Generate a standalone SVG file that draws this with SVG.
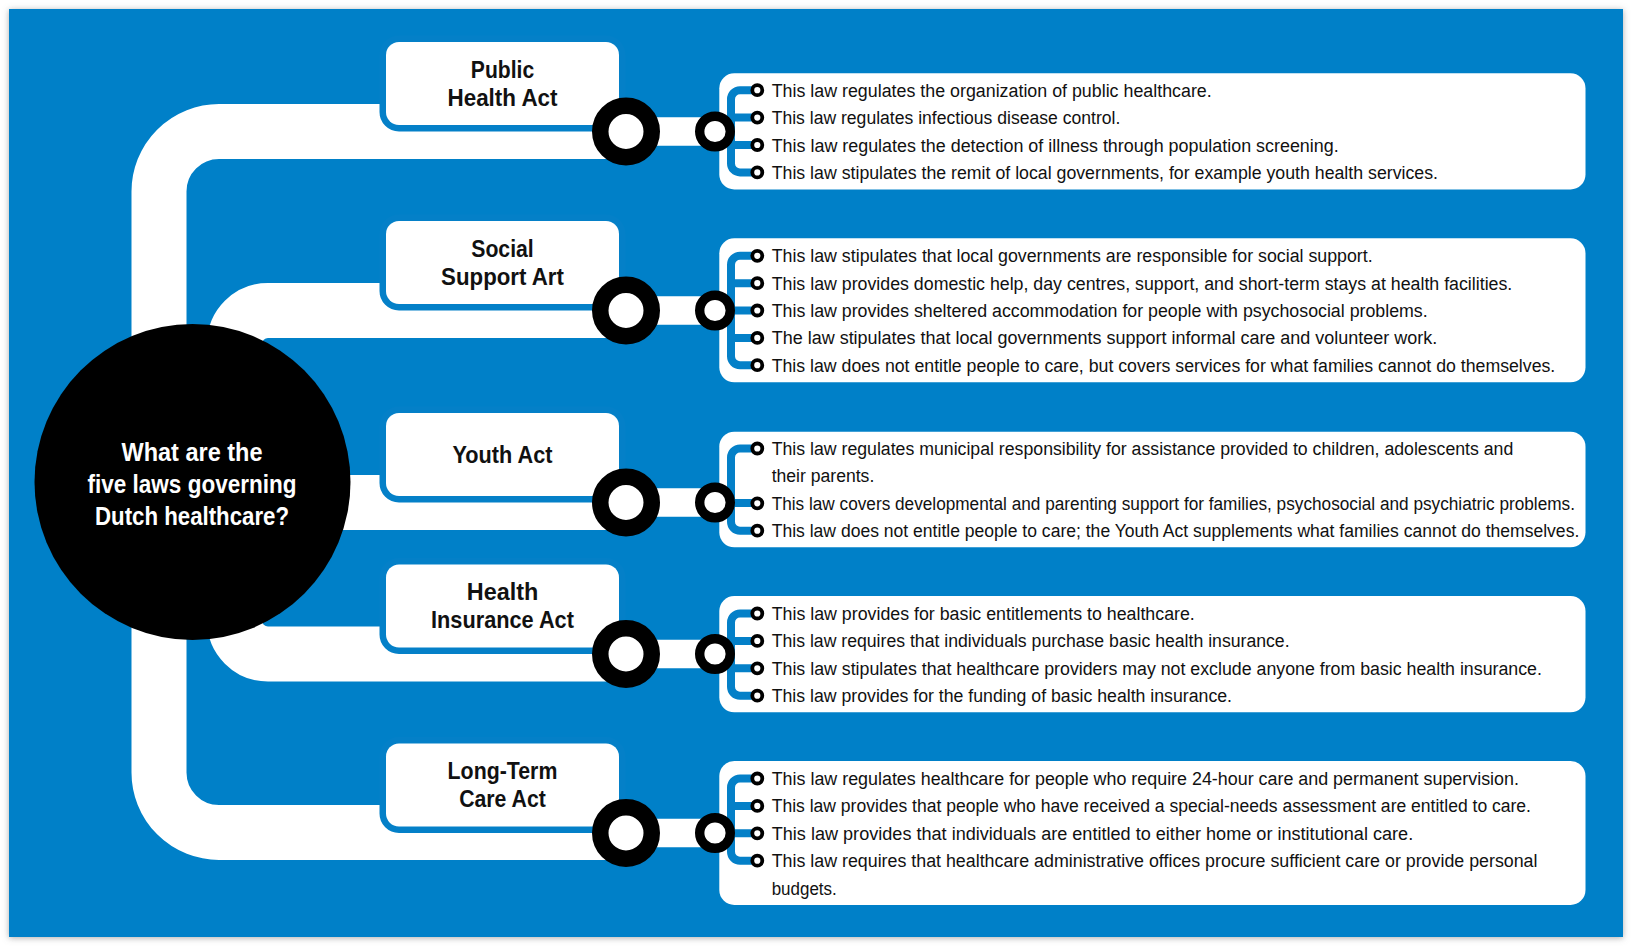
<svg xmlns="http://www.w3.org/2000/svg" width="1631" height="946" viewBox="0 0 1631 946">
<defs>
<filter id="sh" x="-5%" y="-5%" width="110%" height="110%"><feDropShadow dx="0" dy="1" stdDeviation="3" flood-color="#777" flood-opacity="0.6"/></filter>
<style>
.bg{fill:#0480C8}
.pipe{fill:none;stroke:#fff;stroke-width:55}
.spipe{fill:none;stroke:#fff;stroke-width:28.7}
.box{fill:#fff;stroke:#0480C8;stroke-width:13;paint-order:stroke}
.ring{fill:#fff;stroke:#000;stroke-width:16.5}
.sring{fill:#fff;stroke:#000;stroke-width:9.4}
.panel{fill:#fff}
.br{fill:none;stroke:#0480C8;stroke-width:8}
.bul{fill:#fff;stroke:#000;stroke-width:3.8}
.t{font-family:"Liberation Sans",Arial,sans-serif;font-size:18px;fill:#111}
.h{font-family:"Liberation Sans",Arial,sans-serif;font-size:24.5px;font-weight:bold;fill:#111;text-anchor:middle}
.c{font-family:"Liberation Sans",Arial,sans-serif;font-size:25.5px;font-weight:bold;fill:#fff;text-anchor:middle}
</style>
</defs>
<rect width="1631" height="946" fill="#fff"/>
<rect class="bg" x="9" y="9" width="1614" height="928" filter="url(#sh)"/>

<g id="connectors">
<path class="pipe" d="M626 131.5H219A60 60 0 0 0 159 191.5V772.5A60 60 0 0 0 219 832.5H626"/>
<path class="pipe" d="M626 310.5H268A33.5 33.5 0 0 0 234.5 344V440"/>
<path class="pipe" d="M300 502.5H626"/>
<path class="pipe" d="M626 654H268A33.5 33.5 0 0 1 234.5 620.5V540"/>
<path class="spipe" d="M626 131.5H715M626 310.5H715M626 502.5H715M626 654H715M626 833H715"/>
</g>

<g id="center">
<circle cx="192.5" cy="482" r="158" fill="#000"/>
<text class="c" x="192" y="460.7" textLength="141" lengthAdjust="spacingAndGlyphs">What are the</text>
<text class="c" x="192" y="492.7" textLength="209" lengthAdjust="spacingAndGlyphs">five laws governing</text>
<text class="c" x="192" y="525" textLength="194" lengthAdjust="spacingAndGlyphs">Dutch healthcare?</text>
</g>

<g id="public-health-act">
<rect class="box" x="386" y="42" width="233" height="83" rx="13"/>
<text class="h" x="502.5" y="77.8" textLength="63.4" lengthAdjust="spacingAndGlyphs">Public</text>
<text class="h" x="502.5" y="105.5" textLength="110" lengthAdjust="spacingAndGlyphs">Health Act</text>
<circle class="ring" cx="626" cy="131.5" r="25.75"/>
</g>
<g id="social-support-act">
<rect class="box" x="386" y="221" width="233" height="83" rx="13"/>
<text class="h" x="502.5" y="256.8" textLength="62.5" lengthAdjust="spacingAndGlyphs">Social</text>
<text class="h" x="502.5" y="284.5" textLength="122.8" lengthAdjust="spacingAndGlyphs">Support Art</text>
<circle class="ring" cx="626" cy="310.5" r="25.75"/>
</g>
<g id="youth-act">
<rect class="box" x="386" y="413" width="233" height="83" rx="13"/>
<text class="h" x="502.5" y="463.3" textLength="100" lengthAdjust="spacingAndGlyphs">Youth Act</text>
<circle class="ring" cx="626" cy="502.5" r="25.75"/>
</g>
<g id="health-insurance-act">
<rect class="box" x="386" y="564.5" width="233" height="83" rx="13"/>
<text class="h" x="502.5" y="600.3" textLength="71.5" lengthAdjust="spacingAndGlyphs">Health</text>
<text class="h" x="502.5" y="628" textLength="142.9" lengthAdjust="spacingAndGlyphs">Insurance Act</text>
<circle class="ring" cx="626" cy="654" r="25.75"/>
</g>
<g id="long-term-care-act">
<rect class="box" x="386" y="743.5" width="233" height="83" rx="13"/>
<text class="h" x="502.5" y="779.3" textLength="109.8" lengthAdjust="spacingAndGlyphs">Long-Term</text>
<text class="h" x="502.5" y="807" textLength="86.6" lengthAdjust="spacingAndGlyphs">Care Act</text>
<circle class="ring" cx="626" cy="833" r="25.75"/>
</g>

<g id="panel-public-health">
<rect class="panel" x="719.3" y="73.3" width="866.2" height="116.2" rx="15"/>
<path class="br" d="M757 90.2H740A9 9 0 0 0 731 99.2V163.4A9 9 0 0 0 740 172.4H757M731 117.6H757M731 145H757"/>
<circle class="sring" cx="715" cy="131.5" r="15.3"/>
<circle class="bul" cx="757.3" cy="90.2" r="5"/>
<circle class="bul" cx="757.3" cy="117.6" r="5"/>
<circle class="bul" cx="757.3" cy="145" r="5"/>
<circle class="bul" cx="757.3" cy="172.4" r="5"/>
<text class="t" x="771.7" y="96.7" textLength="440" lengthAdjust="spacingAndGlyphs">This law regulates the organization of public healthcare.</text>
<text class="t" x="771.7" y="124.1" textLength="348.6" lengthAdjust="spacingAndGlyphs">This law regulates infectious disease control.</text>
<text class="t" x="771.7" y="151.5" textLength="567" lengthAdjust="spacingAndGlyphs">This law regulates the detection of illness through population screening.</text>
<text class="t" x="771.7" y="178.9" textLength="666.3" lengthAdjust="spacingAndGlyphs">This law stipulates the remit of local governments, for example youth health services.</text>
</g>

<g id="panel-social-support">
<rect class="panel" x="719.3" y="238.3" width="866.2" height="144" rx="15"/>
<path class="br" d="M757 255.8H740A9 9 0 0 0 731 264.8V356.2A9 9 0 0 0 740 365.2H757M731 283.2H757M731 310.5H757M731 337.9H757"/>
<circle class="sring" cx="715" cy="310.5" r="15.3"/>
<circle class="bul" cx="757.3" cy="255.8" r="5"/>
<circle class="bul" cx="757.3" cy="283.2" r="5"/>
<circle class="bul" cx="757.3" cy="310.5" r="5"/>
<circle class="bul" cx="757.3" cy="337.9" r="5"/>
<circle class="bul" cx="757.3" cy="365.2" r="5"/>
<text class="t" x="771.7" y="262.3" textLength="601" lengthAdjust="spacingAndGlyphs">This law stipulates that local governments are responsible for social support.</text>
<text class="t" x="771.7" y="289.7" textLength="740.6" lengthAdjust="spacingAndGlyphs">This law provides domestic help, day centres, support, and short-term stays at health facilities.</text>
<text class="t" x="771.7" y="317" textLength="656" lengthAdjust="spacingAndGlyphs">This law provides sheltered accommodation for people with psychosocial problems.</text>
<text class="t" x="771.7" y="344.4" textLength="665.6" lengthAdjust="spacingAndGlyphs">The law stipulates that local governments support informal care and volunteer work.</text>
<text class="t" x="771.7" y="371.7" textLength="783.6" lengthAdjust="spacingAndGlyphs">This law does not entitle people to care, but covers services for what families cannot do themselves.</text>
</g>

<g id="panel-youth">
<rect class="panel" x="719.3" y="431.7" width="866.2" height="115.6" rx="15"/>
<path class="br" d="M757 448.5H740A9 9 0 0 0 731 457.5V521.7A9 9 0 0 0 740 530.7H757M731 503H757"/>
<circle class="sring" cx="715" cy="502.5" r="15.3"/>
<circle class="bul" cx="757.3" cy="448.5" r="5"/>
<circle class="bul" cx="757.3" cy="503.3" r="5"/>
<circle class="bul" cx="757.3" cy="530.7" r="5"/>
<text class="t" x="771.7" y="455" textLength="741.6" lengthAdjust="spacingAndGlyphs">This law regulates municipal responsibility for assistance provided to children, adolescents and</text>
<text class="t" x="771.7" y="482.4" textLength="102.6" lengthAdjust="spacingAndGlyphs">their parents.</text>
<text class="t" x="771.7" y="509.8" textLength="803.3" lengthAdjust="spacingAndGlyphs">This law covers developmental and parenting support for families, psychosocial and psychiatric problems.</text>
<text class="t" x="771.7" y="537.2" textLength="807.6" lengthAdjust="spacingAndGlyphs">This law does not entitle people to care; the Youth Act supplements what families cannot do themselves.</text>
</g>

<g id="panel-health-insurance">
<rect class="panel" x="719.3" y="596" width="866.2" height="116.3" rx="15"/>
<path class="br" d="M757 613.5H740A9 9 0 0 0 731 622.5V686.7A9 9 0 0 0 740 695.7H757M731 640.9H757M731 668.3H757"/>
<circle class="sring" cx="715" cy="654" r="15.3"/>
<circle class="bul" cx="757.3" cy="613.5" r="5"/>
<circle class="bul" cx="757.3" cy="640.9" r="5"/>
<circle class="bul" cx="757.3" cy="668.3" r="5"/>
<circle class="bul" cx="757.3" cy="695.7" r="5"/>
<text class="t" x="771.7" y="620" textLength="423.1" lengthAdjust="spacingAndGlyphs">This law provides for basic entitlements to healthcare.</text>
<text class="t" x="771.7" y="647.4" textLength="517.9" lengthAdjust="spacingAndGlyphs">This law requires that individuals purchase basic health insurance.</text>
<text class="t" x="771.7" y="674.8" textLength="770.2" lengthAdjust="spacingAndGlyphs">This law stipulates that healthcare providers may not exclude anyone from basic health insurance.</text>
<text class="t" x="771.7" y="702.2" textLength="460.3" lengthAdjust="spacingAndGlyphs">This law provides for the funding of basic health insurance.</text>
</g>

<g id="panel-long-term-care">
<rect class="panel" x="719.3" y="761" width="866.2" height="144" rx="15"/>
<path class="br" d="M757 778.5H740A9 9 0 0 0 731 787.5V851.7A9 9 0 0 0 740 860.7H757M731 805.9H757M731 833.3H757"/>
<circle class="sring" cx="715" cy="833" r="15.3"/>
<circle class="bul" cx="757.3" cy="778.5" r="5"/>
<circle class="bul" cx="757.3" cy="805.9" r="5"/>
<circle class="bul" cx="757.3" cy="833.3" r="5"/>
<circle class="bul" cx="757.3" cy="860.7" r="5"/>
<text class="t" x="771.7" y="785" textLength="747.2" lengthAdjust="spacingAndGlyphs">This law regulates healthcare for people who require 24-hour care and permanent supervision.</text>
<text class="t" x="771.7" y="812.4" textLength="759.3" lengthAdjust="spacingAndGlyphs">This law provides that people who have received a special-needs assessment are entitled to care.</text>
<text class="t" x="771.7" y="839.8" textLength="641.5" lengthAdjust="spacingAndGlyphs">This law provides that individuals are entitled to either home or institutional care.</text>
<text class="t" x="771.7" y="867.2" textLength="765.8" lengthAdjust="spacingAndGlyphs">This law requires that healthcare administrative offices procure sufficient care or provide personal</text>
<text class="t" x="771.7" y="894.6" textLength="65" lengthAdjust="spacingAndGlyphs">budgets.</text>
</g>
</svg>
